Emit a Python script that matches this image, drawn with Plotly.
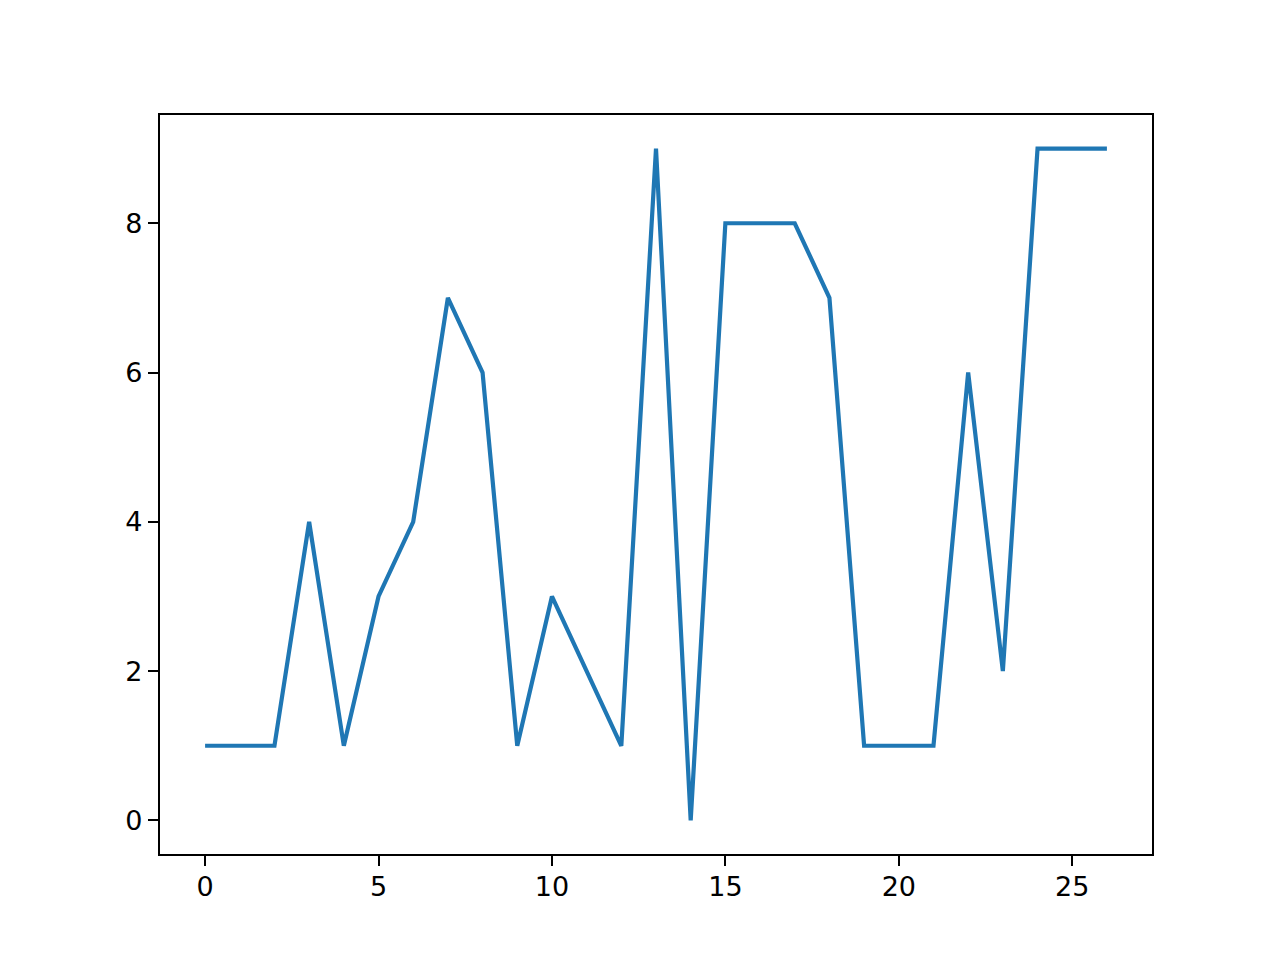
import plotly.graph_objects as go

# series
x_values = list(range(27))
y_values = [1, 1, 1, 4, 1, 3, 4, 7, 6, 1, 3, 2, 1, 9, 0, 8, 8, 8, 7, 1, 1, 1, 6, 2, 9, 9, 9]

x_ticks = [0, 5, 10, 15, 20, 25]
y_ticks = [0, 2, 4, 6, 8]

fig = go.Figure()
fig.add_trace(go.Scatter(x=x_values, y=y_values, mode='lines',
                         line=dict(color='#1f77b4', width=4.2)))

axis_style = dict(showgrid=False, zeroline=False, showline=True, linecolor='black',
                  linewidth=2.2, mirror=True, ticks='outside', ticklen=10, tickwidth=2.2,
                  tickcolor='black', tickfont=dict(family='DejaVu Sans', size=27, color='black'))

fig.update_xaxes(range=[-1.3, 27.3], tickvals=x_ticks, ticklabelstandoff=-3, **axis_style)
fig.update_yaxes(range=[-0.45, 9.45], tickvals=y_ticks, **axis_style)

# page body adds an 8px offset, so margins are trimmed on left/top
fig.update_layout(width=1280, height=960, showlegend=False,
                  plot_bgcolor='white', paper_bgcolor='white',
                  margin=dict(l=152, r=136, t=107, b=114))

fig.write_html("out.html")
